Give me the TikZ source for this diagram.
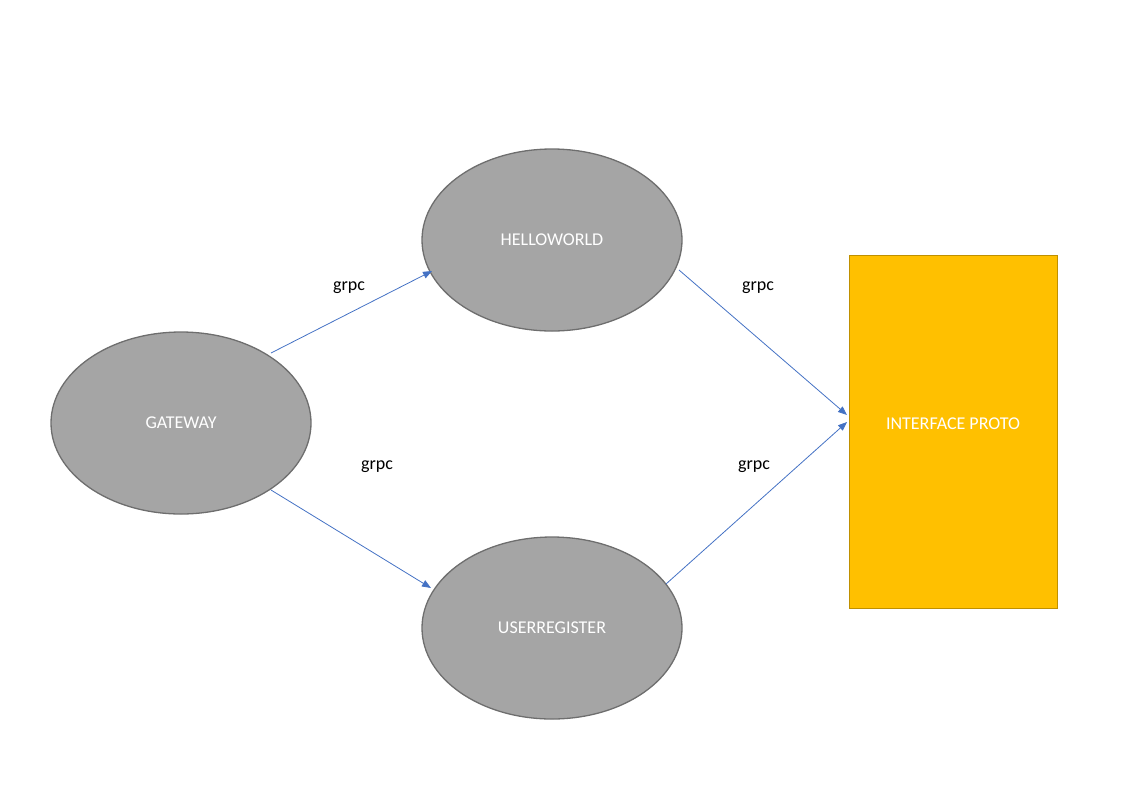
\documentclass[tikz,border=0pt]{standalone}
\usepackage{fontspec}
\setmainfont{Carlito}
\usetikzlibrary{shapes.geometric,arrows.meta}
\definecolor{ellfill}{HTML}{A5A5A5}
\definecolor{ellline}{HTML}{6E6E6E}
\definecolor{boxfill}{HTML}{FFC000}
\definecolor{boxline}{HTML}{BF9000}
\definecolor{arr}{HTML}{4472C4}
\tikzset{
  svc/.style={ellipse,fill=ellfill,draw=ellline,line width=1.3pt,minimum width=260pt,minimum height=182pt,inner sep=0pt,text=white,font=\fontsize{18}{20}\selectfont},
  conn/.style={draw=arr,line width=0.8pt,-{Triangle[length=9pt,width=7pt]}},
  lbl/.style={font=\fontsize{18}{20}\selectfont,text=black}
}
\begin{document}
\begin{tikzpicture}[x=1pt,y=-1pt]
\useasboundingbox (0,0) rectangle (1123,804);
\node[svc] (hw) at (552,240) {HELLOWORLD};
\node[svc] (gw) at (181,423) {GATEWAY};
\node[svc] (ur) at (552,628) {USERREGISTER};
\node[rectangle,fill=boxfill,draw=boxline,line width=1.3pt,minimum width=208pt,minimum height=353pt,text=white,font=\fontsize{18}{20}\selectfont,anchor=north west] (ip) at (849,255) {};
\node[text=white,font=\fontsize{18}{20}\selectfont] (iplbl) at (953,424) {INTERFACE PROTO};
\coordinate (a1) at (271,353); \coordinate (a2) at (432,271);
\coordinate (b1) at (271,490); \coordinate (b2) at (431,588);
\coordinate (c1) at (679,270); \coordinate (c2) at (847,415);
\coordinate (d1) at (666,584); \coordinate (d2) at (847,422);
\draw[conn] (a1) -- (a2);
\draw[conn] (b1) -- (b2);
\draw[conn] (c1) -- (c2);
\draw[conn] (d1) -- (d2);
\node[lbl] (l1) at (349,288) {grpc};
\node[lbl] (l2) at (377,467) {grpc};
\node[lbl] (l3) at (758,288) {grpc};
\node[lbl] (l4) at (754,467) {grpc};
\end{tikzpicture}
\end{document}
